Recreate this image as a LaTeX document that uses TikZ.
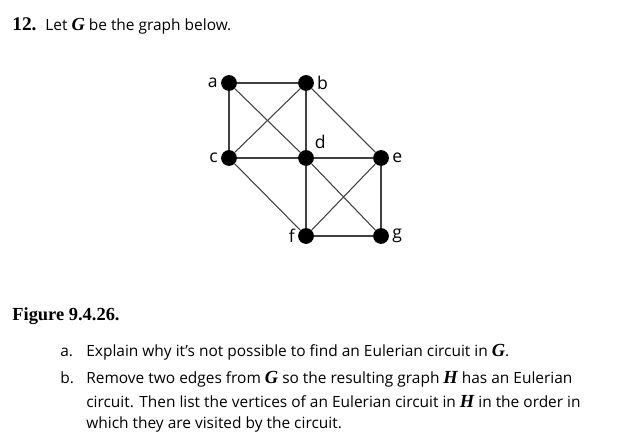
\documentclass[tikz,border=0pt]{standalone}
\usepackage{fontspec}
\setmainfont{Open Sans}
\newfontfamily\serif{Liberation Serif}
\newcommand{\mG}[1]{{\serif\bfseries\itshape\fontsize{10.5}{11}\selectfont #1}}
\begin{document}
\begin{tikzpicture}[x=0.02cm,y=-0.02cm,
  vtx/.style={circle,fill=black,inner sep=0pt,minimum size=9pt},
  edge/.style={draw=black!75,line width=0.6pt},
  lbl/.style={font=\fontsize{10}{12}\selectfont,inner sep=1.5pt},
  txt/.style={anchor=base west,inner sep=0pt,font=\fontsize{8.8}{11}\selectfont}]
\useasboundingbox[fill=white] (0,0) rectangle (625,438);
\node (a) [vtx] at (229,83) {};
\node (b) [vtx] at (306,83) {};
\node (c) [vtx] at (229,158) {};
\node (d) [vtx] at (306,158) {};
\node (e) [vtx] at (381,158) {};
\node (f) [vtx] at (306,236) {};
\node (g) [vtx] at (381,236) {};
\foreach \u/\v in {a/b,a/c,a/d,b/c,b/d,b/e,c/d,d/e,c/f,d/f,d/g,e/f,e/g,f/g}
  \draw[edge] (\u) -- (\v);
\node[lbl,anchor=east] at (a.west) {a};
\node[lbl,anchor=west] at (b.east) {b};
\node[lbl,anchor=east] at (c.west) {c};
\node[lbl,anchor=south west] at (d.north east) {d};
\node[lbl,anchor=west] at (e.east) {e};
\node[lbl,anchor=east] at (f.west) {f};
\node[lbl,anchor=west] at (g.east) {g};
\node (t12) [txt] at (12,31) {{\serif\bfseries\fontsize{11}{13}\selectfont 12.}};
\node (tq) [txt] at (45,31) {Let \mG{G} be the graph below.};
\node (fig) [txt] at (12,321) {{\serif\bfseries\fontsize{10.5}{12}\selectfont Figure 9.4.26.}};
\node (la) [txt] at (60,357) {a.};
\node (ta) [txt] at (86,357) {Explain why it’s not possible to find an Eulerian circuit in \mG{G}.};
\node (lb) [txt] at (60,384) {b.};
\node (tb) [txt] at (86,384) {Remove two edges from \mG{G} so the resulting graph \mG{H} has an Eulerian};
\node (tb2) [txt] at (86,408) {circuit. Then list the vertices of an Eulerian circuit in \mG{H} in the order in};
\node (tb3) [txt] at (86,429) {which they are visited by the circuit.};
\end{tikzpicture}
\end{document}
